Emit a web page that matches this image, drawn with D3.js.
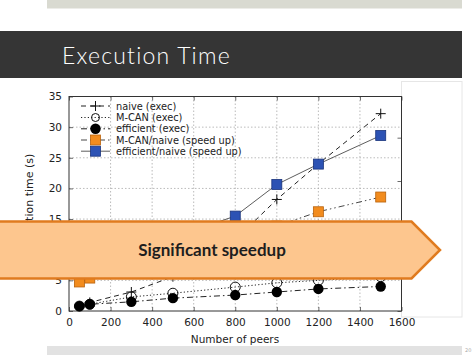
<!DOCTYPE html>
<html><head><meta charset="utf-8">
<script src="https://cdn.jsdelivr.net/npm/d3@7"></script>
<style>html,body{margin:0;padding:0;background:#fff;overflow:hidden}</style>
</head><body>
<svg id="c" width="474" height="355"></svg>
<script>
const peers = [50, 100, 300, 500, 800, 1000, 1200, 1500];
const naiveExec = [0.8, 1.4, 3.1, 5.6, 11.6, 18.2, 24.0, 32.2];
const mcanExec = [0.8, 1.1, 2.3, 2.9, 3.9, 4.6, 5.0, 5.6];
const efficientExec = [0.8, 1.1, 1.5, 2.1, 2.6, 3.1, 3.6, 4.0];
const mcanSpeedup = [0.67, 0.76, 1.0, 1.3, 1.7, 1.96, 2.29, 2.63];
const efficientSpeedup = [0.9, 1.0, 1.3, 1.7, 2.19, 2.92, 3.39, 4.05];
const seriesNames = ["naive (exec)", "M-CAN (exec)", "efficient (exec)", "M-CAN/naive (speed up)", "efficient/naive (speed up)"];
const xTicks = [0, 200, 400, 600, 800, 1000, 1200, 1400, 1600];
const yTicks = [0, 5, 10, 15, 20, 25, 30, 35];
const y2Ticks = [0, 1, 2, 3, 4];
const titleText = "Execution Time";
const calloutText = "Significant speedup";

const svg = d3.select("#c");
const L = 69, R = 401.5, T = 96.5, B = 311;
const x = d3.scaleLinear().domain([0, 1600]).range([L, R]);
const y = d3.scaleLinear().domain([0, 35]).range([B, T]);
const y2 = d3.scaleLinear().domain([0, 4.95]).range([B, T]);

// slide chrome
svg.append("rect").attr("x", 47).attr("y", 0).attr("width", 415).attr("height", 8.5).attr("fill", "#d9dad1");
svg.append("rect").attr("x", 0).attr("y", 31).attr("width", 462).attr("height", 47).attr("fill", "#353535");
svg.append("text").attr("x", 62).attr("y", 63.5).attr("fill", "#fff")
  .style("font-family", "Lato, 'DejaVu Sans'").style("font-weight", 300).style("font-size", "23px")
  .style("letter-spacing", "1.2px").text(titleText);
svg.append("rect").attr("x", 401.5).attr("y", 81.5).attr("width", 60.5).attr("height", 235.5)
  .attr("fill", "none").attr("stroke", "#e6e6e6").attr("stroke-width", 1);
svg.append("rect").attr("x", 47).attr("y", 346).attr("width", 415).attr("height", 9).attr("fill", "#e2e2e2");
svg.append("text").attr("x", 465).attr("y", 352).attr("fill", "#aaa")
  .style("font-family", "DejaVu Sans").style("font-size", "5px").text("20");

// grid
const g = svg.append("g");
xTicks.filter(t => t > 0 && t < 1600).forEach(t => {
  g.append("line").attr("x1", x(t)).attr("x2", x(t)).attr("y1", T).attr("y2", B)
    .attr("stroke", "#aaa").attr("stroke-width", 0.8).attr("stroke-dasharray", "1.5,2");
});
yTicks.filter(t => t > 0 && t < 35).forEach(t => {
  g.append("line").attr("x1", L).attr("x2", R).attr("y1", y(t)).attr("y2", y(t))
    .attr("stroke", "#aaa").attr("stroke-width", 0.8).attr("stroke-dasharray", "1.5,2");
});

// axes
const fontT = "DejaVu Sans";
const xAx = d3.axisBottom(x).tickValues(xTicks).tickFormat(d3.format("d")).tickSizeInner(-4).tickSizeOuter(0).tickPadding(8);
const xg = svg.append("g").attr("transform", `translate(0,${B})`).call(xAx);
const xTop = d3.axisTop(x).tickValues(xTicks).tickSizeInner(-4).tickSizeOuter(0).tickFormat("");
const xtg = svg.append("g").attr("transform", `translate(0,${T})`).call(xTop);
const yAx = d3.axisLeft(y).tickValues(yTicks).tickSizeInner(-4).tickSizeOuter(0).tickPadding(7);
const yg = svg.append("g").attr("transform", `translate(${L},0)`).call(yAx);
const y2Ax = d3.axisRight(y2).tickValues(y2Ticks).tickSizeInner(-4).tickSizeOuter(0).tickFormat("");
const y2g = svg.append("g").attr("transform", `translate(${R},0)`).call(y2Ax);
[xg, xtg, yg, y2g].forEach(a => {
  a.select(".domain").remove();
  a.selectAll("line").attr("stroke", "#444").attr("stroke-width", 0.8);
  a.selectAll("text").style("font-family", fontT).style("font-size", "10.5px").attr("fill", "#222");
});
svg.append("rect").attr("x", L).attr("y", T).attr("width", R - L).attr("height", B - T)
  .attr("fill", "none").attr("stroke", "#333").attr("stroke-width", 1);

svg.append("text").attr("x", 235).attr("y", 343).attr("text-anchor", "middle")
  .style("font-family", fontT).style("font-size", "10.5px").attr("fill", "#222").text("Number of peers");
svg.append("text").attr("transform", `translate(33,${(T + B) / 2}) rotate(-90)`).attr("text-anchor", "middle")
  .style("font-family", fontT).style("font-size", "11px").attr("fill", "#222").text("Execution time (s)");

// series
const orange = "#f28c1e", orangeS = "#b8620c", blue = "#2c52b4", blueS = "#1a347c";
const series = [
  {vals: naiveExec, sc: y, dash: "5,4", mk: "plus", lw: 1, col: "#222"},
  {vals: mcanExec, sc: y, dash: "1.2,2.2", mk: "ocircle", lw: 1, col: "#222"},
  {vals: efficientExec, sc: y, dash: "6,3,1.5,3", mk: "dot", lw: 1, col: "#222"},
  {vals: mcanSpeedup, sc: y2, dash: "6,3,1.5,3,1.5,3", mk: "osq", lw: 0.9, col: "#333"},
  {vals: efficientSpeedup, sc: y2, dash: null, mk: "bsq", lw: 0.8, col: "#333"}
];
function marker(sel, mk, cx, cy, legend) {
  if (mk === "plus") {
    sel.append("path").attr("d", `M${cx - 5},${cy}H${cx + 5}M${cx},${cy - 5}V${cy + 5}`)
      .attr("stroke", "#111").attr("stroke-width", 1);
  } else if (mk === "ocircle") {
    sel.append("circle").attr("cx", cx).attr("cy", cy).attr("r", legend ? 4 : 5)
      .attr("fill", "none").attr("stroke", "#111").attr("stroke-width", 1);
  } else if (mk === "dot") {
    sel.append("circle").attr("cx", cx).attr("cy", cy).attr("r", 5.2).attr("fill", "#000");
  } else if (mk === "osq") {
    sel.append("rect").attr("x", cx - 5).attr("y", cy - 5).attr("width", 10).attr("height", 10)
      .attr("fill", orange).attr("stroke", orangeS).attr("stroke-width", 0.8);
  } else if (mk === "bsq") {
    sel.append("rect").attr("x", cx - 5).attr("y", cy - 5).attr("width", 10).attr("height", 10)
      .attr("fill", blue).attr("stroke", blueS).attr("stroke-width", 0.8);
  }
}
const plot = svg.append("g");
series.forEach(s => {
  const pts = peers.map((p, i) => [x(p), s.sc(s.vals[i])]);
  const line = d3.line();
  const p = plot.append("path").attr("d", line(pts)).attr("fill", "none")
    .attr("stroke", s.col).attr("stroke-width", s.lw);
  if (s.dash) p.attr("stroke-dasharray", s.dash);
  pts.forEach(pt => marker(plot, s.mk, pt[0], pt[1], false));
});

// legend
const lg = svg.append("g");
const legY = [106, 117.5, 128.8, 140, 151.2];
series.forEach((s, i) => {
  const ly = legY[i];
  const p = lg.append("line").attr("x1", 81).attr("x2", 110).attr("y1", ly).attr("y2", ly)
    .attr("stroke", s.col).attr("stroke-width", s.lw);
  if (s.dash) p.attr("stroke-dasharray", s.dash);
  marker(lg, s.mk, 95.5, ly, true);
  lg.append("text").attr("x", 116).attr("y", ly + 3.6).style("font-family", fontT)
    .style("font-size", "9.8px").attr("fill", "#222").text(seriesNames[i]);
});

// callout arrow
svg.append("path").attr("d", "M-10,221.5 H411.5 L440,250 L411.5,278.5 H-10 Z")
  .attr("fill", "#fdc68e").attr("stroke", "#e07b1f").attr("stroke-width", 2.5).attr("stroke-linejoin", "miter");
svg.append("text").attr("x", 212).attr("y", 256).attr("text-anchor", "middle")
  .style("font-family", "Lato, 'Open Sans'").style("font-weight", 700).style("font-size", "17px")
  .attr("fill", "#1e1e1e").text(calloutText);
</script>
</body></html>
